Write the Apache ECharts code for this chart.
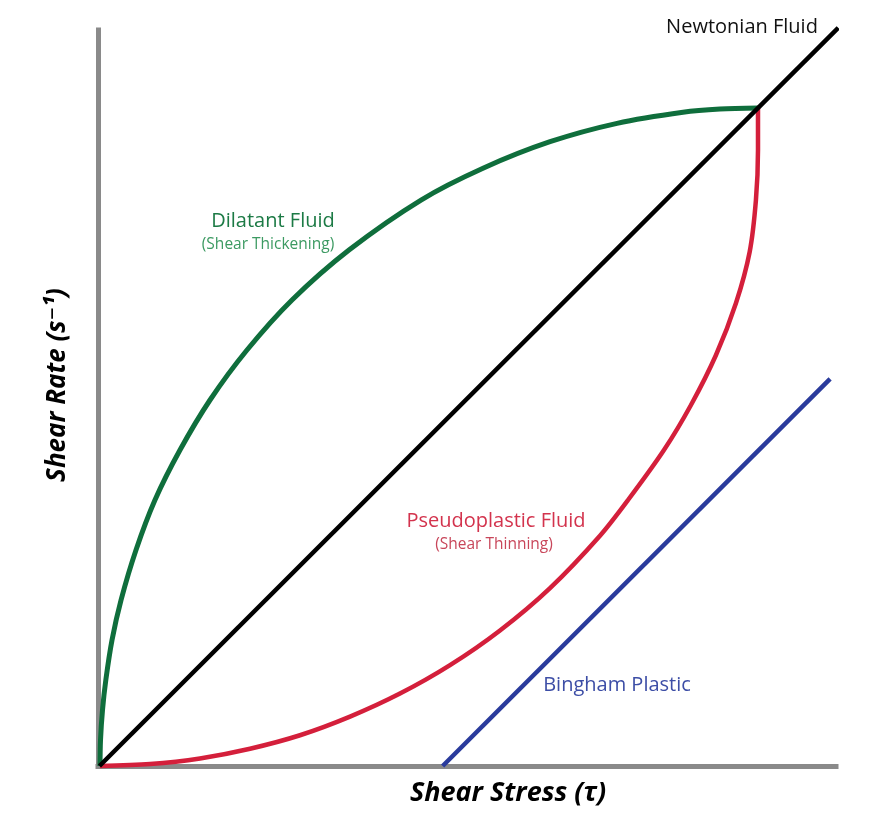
<!DOCTYPE html>
<html><head><meta charset="utf-8">
<script src="https://cdn.jsdelivr.net/npm/echarts@6/dist/echarts.min.js"></script>
<style>html,body{margin:0;padding:0;background:#fff}#c{width:871px;height:813px}</style>
</head><body><div id="c"></div>
<script>
// Data in arbitrary units: shear stress (x) 0..100, shear rate (y) 0..100
const newtonian = [[0.2,0],[100.3,100.3]];
const dilatant = [[0.27,0],[0.34,3.53],[0.61,7.61],[1.06,11.68],[1.9,17.12],[3.12,22.55],[5.15,29.35],[7.72,36.14],[11.11,42.93],[15.18,49.73],[20.19,56.52],[26.29,63.32],[34.01,70.11],[43.77,76.9],[52.17,81.22],[61.25,84.82],[70.33,87.32],[79.27,88.82],[84.28,89.25],[89.43,89.4]];
const pseudoplastic = [[0.27,0],[7.05,0.27],[13.82,1.03],[20.6,2.35],[27.37,4.18],[34.15,6.71],[40.92,9.84],[47.7,13.7],[54.47,18.41],[61.25,24.17],[68.02,31.29],[71.82,36.14],[76.69,42.93],[80.35,49.05],[83.74,55.84],[86.45,62.91],[88.3,69.84],[89.15,76.9],[89.43,83.7],[89.43,89.4]];
const bingham = [[46.7,0],[99.2,52.6]];
const seriesNames = ['Newtonian Fluid','Dilatant Fluid','Pseudoplastic Fluid','Bingham Plastic'];
const subLabels = ['(Shear Thickening)','(Shear Thinning)'];
const xTitle = 'Shear Stress (τ)';
const yTitle = 'Shear Rate (s⁻¹)';

const chart = echarts.init(document.getElementById('c'));
const F = '"Open Sans", "DejaVu Sans", sans-serif';
const axisStyle = {show:true, lineStyle:{color:'#8a8a8a', width:5, cap:'square'}};
chart.setOption({
  animation:false,
  backgroundColor:'#fff',
  grid:{left:98, right:35, top:30, bottom:47},
  xAxis:{type:'value', min:0, max:100, axisLine:axisStyle, axisTick:{show:false}, axisLabel:{show:false}, splitLine:{show:false}},
  yAxis:{type:'value', min:0, max:100, axisLine:axisStyle, axisTick:{show:false}, axisLabel:{show:false}, splitLine:{show:false}},
  series:[
    {name:seriesNames[0], type:'line', data:newtonian, showSymbol:false, clip:false, lineStyle:{color:'#000', width:4.5}, z:5},
    {name:seriesNames[1], type:'line', data:dilatant, showSymbol:false, smooth:0.3, clip:false, lineStyle:{color:'#0f6e3c', width:5}},
    {name:seriesNames[2], type:'line', data:pseudoplastic, showSymbol:false, smooth:0.3, clip:false, lineStyle:{color:'#d41f3b', width:4.5}},
    {name:seriesNames[3], type:'line', data:bingham, showSymbol:false, clip:false, lineStyle:{color:'#2a3b9c', width:4.5}}
  ],
  graphic:[
    {type:'text', x:742, y:27, style:{text:seriesNames[0], font:'20px '+F, fill:'#111', align:'center', verticalAlign:'middle'}},
    {type:'text', x:273, y:221, style:{text:seriesNames[1], font:'20px '+F, fill:'#1c7a45', align:'center', verticalAlign:'middle'}},
    {type:'text', x:268, y:245, style:{text:subLabels[0], font:'15.5px '+F, fill:'#3c9a62', align:'center', verticalAlign:'middle'}},
    {type:'text', x:496, y:521, style:{text:seriesNames[2], font:'20px '+F, fill:'#d3334d', align:'center', verticalAlign:'middle'}},
    {type:'text', x:494, y:545, style:{text:subLabels[1], font:'15.5px '+F, fill:'#c8465a', align:'center', verticalAlign:'middle'}},
    {type:'text', x:617, y:685, style:{text:seriesNames[3], font:'20px '+F, fill:'#3d4ea6', align:'center', verticalAlign:'middle'}},
    {type:'text', x:508, y:793, style:{text:xTitle, font:'italic bold 27px '+F, fill:'#000', align:'center', verticalAlign:'middle'}},
    {type:'text', x:58, y:385, rotation:Math.PI/2, style:{text:yTitle, font:'italic bold 26px '+F, fill:'#000', align:'center', verticalAlign:'middle'}}
  ]
});
</script>
</body></html>
